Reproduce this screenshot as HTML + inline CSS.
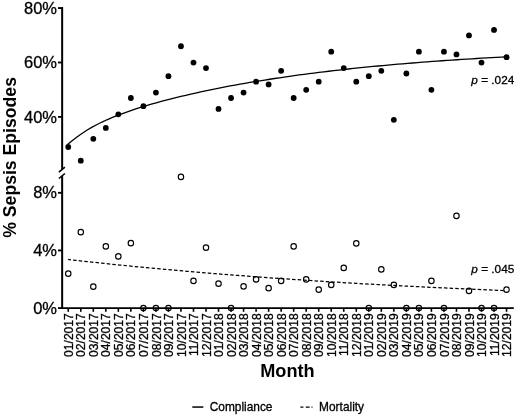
<!DOCTYPE html>
<html lang="en"><head><meta charset="utf-8"><title>Sepsis Episodes by Month</title>
<style>html,body{margin:0;padding:0;background:#fff}svg{display:block}text{font-family:"Liberation Sans",Arial,Helvetica,sans-serif;fill:#000}.r{stroke:#000;stroke-width:.3px}</style>
</head><body>
<svg width="520" height="415" viewBox="0 0 520 415">
<rect width="520" height="415" fill="#fff"/>
<g stroke="#000" fill="none" stroke-linecap="butt">
<path d="M62.15,7.1 V169.3" stroke-width="2"/>
<path d="M62.15,176.1 V309" stroke-width="2"/>
<path d="M61.3,308.1 H513.8" stroke-width="1.8"/>
<path d="M58.9,172.2 L64.9,167.2 M58.9,178.5 L64.9,173.5" stroke-width="1.6"/>
<path d="M58.0,8.05 H62" stroke-width="1.85"/>
<path d="M58.0,62.5 H62" stroke-width="1.85"/>
<path d="M58.0,116.9 H62" stroke-width="1.85"/>
<path d="M58.0,192.8 H62" stroke-width="1.85"/>
<path d="M58.0,250.45 H62" stroke-width="1.85"/>
<path d="M58.0,308.1 H62" stroke-width="1.85"/>
<path d="M68.25,308 V311.8" stroke-width="1.6"/>
<path d="M80.77,308 V311.8" stroke-width="1.6"/>
<path d="M93.30,308 V311.8" stroke-width="1.6"/>
<path d="M105.82,308 V311.8" stroke-width="1.6"/>
<path d="M118.34,308 V311.8" stroke-width="1.6"/>
<path d="M130.86,308 V311.8" stroke-width="1.6"/>
<path d="M143.39,308 V311.8" stroke-width="1.6"/>
<path d="M155.91,308 V311.8" stroke-width="1.6"/>
<path d="M168.43,308 V311.8" stroke-width="1.6"/>
<path d="M180.96,308 V311.8" stroke-width="1.6"/>
<path d="M193.48,308 V311.8" stroke-width="1.6"/>
<path d="M206.00,308 V311.8" stroke-width="1.6"/>
<path d="M218.52,308 V311.8" stroke-width="1.6"/>
<path d="M231.05,308 V311.8" stroke-width="1.6"/>
<path d="M243.57,308 V311.8" stroke-width="1.6"/>
<path d="M256.09,308 V311.8" stroke-width="1.6"/>
<path d="M268.62,308 V311.8" stroke-width="1.6"/>
<path d="M281.14,308 V311.8" stroke-width="1.6"/>
<path d="M293.66,308 V311.8" stroke-width="1.6"/>
<path d="M306.18,308 V311.8" stroke-width="1.6"/>
<path d="M318.71,308 V311.8" stroke-width="1.6"/>
<path d="M331.23,308 V311.8" stroke-width="1.6"/>
<path d="M343.75,308 V311.8" stroke-width="1.6"/>
<path d="M356.28,308 V311.8" stroke-width="1.6"/>
<path d="M368.80,308 V311.8" stroke-width="1.6"/>
<path d="M381.32,308 V311.8" stroke-width="1.6"/>
<path d="M393.84,308 V311.8" stroke-width="1.6"/>
<path d="M406.37,308 V311.8" stroke-width="1.6"/>
<path d="M418.89,308 V311.8" stroke-width="1.6"/>
<path d="M431.41,308 V311.8" stroke-width="1.6"/>
<path d="M443.94,308 V311.8" stroke-width="1.6"/>
<path d="M456.46,308 V311.8" stroke-width="1.6"/>
<path d="M468.98,308 V311.8" stroke-width="1.6"/>
<path d="M481.50,308 V311.8" stroke-width="1.6"/>
<path d="M494.03,308 V311.8" stroke-width="1.6"/>
<path d="M506.55,308 V311.8" stroke-width="1.6"/>
</g>
<text x="57.0" y="13.65" font-size="16.5" text-anchor="end" class="r">80%</text>
<text x="57.0" y="68.10" font-size="16.5" text-anchor="end" class="r">60%</text>
<text x="57.0" y="122.50" font-size="16.5" text-anchor="end" class="r">40%</text>
<text x="57.0" y="198.40" font-size="16.5" text-anchor="end" class="r">8%</text>
<text x="57.0" y="256.05" font-size="16.5" text-anchor="end" class="r">4%</text>
<text x="57.0" y="313.70" font-size="16.5" text-anchor="end" class="r">0%</text>
<text transform="translate(72.85,313.2) rotate(-90)" font-size="12.1" text-anchor="end" class="r">01/2017</text>
<text transform="translate(85.37,313.2) rotate(-90)" font-size="12.1" text-anchor="end" class="r">02/2017</text>
<text transform="translate(97.90,313.2) rotate(-90)" font-size="12.1" text-anchor="end" class="r">03/2017</text>
<text transform="translate(110.42,313.2) rotate(-90)" font-size="12.1" text-anchor="end" class="r">04/2017</text>
<text transform="translate(122.94,313.2) rotate(-90)" font-size="12.1" text-anchor="end" class="r">05/2017</text>
<text transform="translate(135.46,313.2) rotate(-90)" font-size="12.1" text-anchor="end" class="r">06/2017</text>
<text transform="translate(147.99,313.2) rotate(-90)" font-size="12.1" text-anchor="end" class="r">07/2017</text>
<text transform="translate(160.51,313.2) rotate(-90)" font-size="12.1" text-anchor="end" class="r">08/2017</text>
<text transform="translate(173.03,313.2) rotate(-90)" font-size="12.1" text-anchor="end" class="r">09/2017</text>
<text transform="translate(185.56,313.2) rotate(-90)" font-size="12.1" text-anchor="end" class="r">10/2017</text>
<text transform="translate(198.08,313.2) rotate(-90)" font-size="12.1" text-anchor="end" class="r">11/2017</text>
<text transform="translate(210.60,313.2) rotate(-90)" font-size="12.1" text-anchor="end" class="r">12/2017</text>
<text transform="translate(223.12,313.2) rotate(-90)" font-size="12.1" text-anchor="end" class="r">01/2018</text>
<text transform="translate(235.65,313.2) rotate(-90)" font-size="12.1" text-anchor="end" class="r">02/2018</text>
<text transform="translate(248.17,313.2) rotate(-90)" font-size="12.1" text-anchor="end" class="r">03/2018</text>
<text transform="translate(260.69,313.2) rotate(-90)" font-size="12.1" text-anchor="end" class="r">04/2018</text>
<text transform="translate(273.22,313.2) rotate(-90)" font-size="12.1" text-anchor="end" class="r">05/2018</text>
<text transform="translate(285.74,313.2) rotate(-90)" font-size="12.1" text-anchor="end" class="r">06/2018</text>
<text transform="translate(298.26,313.2) rotate(-90)" font-size="12.1" text-anchor="end" class="r">07/2018</text>
<text transform="translate(310.78,313.2) rotate(-90)" font-size="12.1" text-anchor="end" class="r">08/2018</text>
<text transform="translate(323.31,313.2) rotate(-90)" font-size="12.1" text-anchor="end" class="r">09/2018</text>
<text transform="translate(335.83,313.2) rotate(-90)" font-size="12.1" text-anchor="end" class="r">10/2018</text>
<text transform="translate(348.35,313.2) rotate(-90)" font-size="12.1" text-anchor="end" class="r">11/2018</text>
<text transform="translate(360.88,313.2) rotate(-90)" font-size="12.1" text-anchor="end" class="r">12/2018</text>
<text transform="translate(373.40,313.2) rotate(-90)" font-size="12.1" text-anchor="end" class="r">01/2019</text>
<text transform="translate(385.92,313.2) rotate(-90)" font-size="12.1" text-anchor="end" class="r">02/2019</text>
<text transform="translate(398.44,313.2) rotate(-90)" font-size="12.1" text-anchor="end" class="r">03/2019</text>
<text transform="translate(410.97,313.2) rotate(-90)" font-size="12.1" text-anchor="end" class="r">04/2019</text>
<text transform="translate(423.49,313.2) rotate(-90)" font-size="12.1" text-anchor="end" class="r">05/2019</text>
<text transform="translate(436.01,313.2) rotate(-90)" font-size="12.1" text-anchor="end" class="r">06/2019</text>
<text transform="translate(448.54,313.2) rotate(-90)" font-size="12.1" text-anchor="end" class="r">07/2019</text>
<text transform="translate(461.06,313.2) rotate(-90)" font-size="12.1" text-anchor="end" class="r">08/2019</text>
<text transform="translate(473.58,313.2) rotate(-90)" font-size="12.1" text-anchor="end" class="r">09/2019</text>
<text transform="translate(486.10,313.2) rotate(-90)" font-size="12.1" text-anchor="end" class="r">10/2019</text>
<text transform="translate(498.63,313.2) rotate(-90)" font-size="12.1" text-anchor="end" class="r">11/2019</text>
<text transform="translate(511.15,313.2) rotate(-90)" font-size="12.1" text-anchor="end" class="r">12/2019</text>
<text transform="translate(16.0,157.4) rotate(-90) scale(0.98,1)" font-size="18" font-weight="bold" text-anchor="middle">% Sepsis Episodes</text>
<text x="287.4" y="377.1" font-size="18.15" font-weight="bold" text-anchor="middle">Month</text>
<path d="M67.50,144.62 L72.43,140.47 L77.36,136.67 L82.29,133.20 L87.22,130.04 L92.15,127.14 L97.08,124.48 L102.01,122.04 L106.94,119.78 L111.87,117.69 L116.80,115.72 L121.73,113.86 L126.66,112.07 L131.59,110.37 L136.52,108.74 L141.45,107.18 L146.38,105.67 L151.31,104.23 L156.24,102.84 L161.17,101.49 L166.10,100.18 L171.03,98.91 L175.96,97.67 L180.88,96.47 L185.81,95.29 L190.74,94.14 L195.67,93.03 L200.60,91.94 L205.53,90.88 L210.46,89.84 L215.39,88.83 L220.32,87.85 L225.25,86.89 L230.18,85.95 L235.11,85.04 L240.04,84.15 L244.97,83.29 L249.90,82.44 L254.83,81.61 L259.76,80.81 L264.69,80.02 L269.62,79.25 L274.55,78.50 L279.48,77.77 L284.41,77.05 L289.34,76.34 L294.27,75.65 L299.20,74.98 L304.13,74.32 L309.06,73.67 L313.99,73.04 L318.92,72.42 L323.85,71.82 L328.78,71.23 L333.71,70.65 L338.64,70.08 L343.57,69.53 L348.50,68.99 L353.43,68.46 L358.36,67.94 L363.29,67.44 L368.22,66.94 L373.15,66.46 L378.08,65.99 L383.01,65.53 L387.94,65.08 L392.87,64.64 L397.79,64.21 L402.72,63.79 L407.65,63.38 L412.58,62.98 L417.51,62.58 L422.44,62.20 L427.37,61.83 L432.30,61.46 L437.23,61.10 L442.16,60.75 L447.09,60.41 L452.02,60.08 L456.95,59.75 L461.88,59.43 L466.81,59.12 L471.74,58.81 L476.67,58.51 L481.60,58.22 L486.53,57.94 L491.46,57.65 L496.39,57.38 L501.32,57.11 L506.25,56.84" stroke="#000" stroke-width="1.3" fill="none"/>
<path d="M68.10,259.45 L75.49,260.29 L82.88,261.11 L90.26,261.92 L97.65,262.72 L105.04,263.50 L112.43,264.27 L119.82,265.03 L127.21,265.77 L134.59,266.50 L141.98,267.21 L149.37,267.92 L156.76,268.61 L164.15,269.29 L171.53,269.96 L178.92,270.61 L186.31,271.26 L193.70,271.89 L201.09,272.52 L208.47,273.13 L215.86,273.73 L223.25,274.32 L230.64,274.90 L238.03,275.47 L245.42,276.03 L252.80,276.58 L260.19,277.12 L267.58,277.66 L274.97,278.18 L282.36,278.69 L289.74,279.20 L297.13,279.69 L304.52,280.18 L311.91,280.66 L319.30,281.13 L326.68,281.59 L334.07,282.05 L341.46,282.49 L348.85,282.93 L356.24,283.36 L363.63,283.79 L371.01,284.20 L378.40,284.61 L385.79,285.01 L393.18,285.41 L400.57,285.80 L407.95,286.18 L415.34,286.55 L422.73,286.92 L430.12,287.28 L437.51,287.64 L444.89,287.99 L452.28,288.33 L459.67,288.67 L467.06,289.00 L474.45,289.32 L481.84,289.64 L489.22,289.96 L496.61,290.27 L504.00,290.57" stroke="#000" stroke-width="1.25" fill="none" stroke-dasharray="3.5 2.136" stroke-dashoffset="0.6"/>
<g fill="#000">
<circle cx="68.25" cy="147.02" r="2.9"/>
<circle cx="80.77" cy="160.63" r="2.9"/>
<circle cx="93.30" cy="138.85" r="2.9"/>
<circle cx="105.82" cy="127.96" r="2.9"/>
<circle cx="118.34" cy="114.34" r="2.9"/>
<circle cx="130.86" cy="98.01" r="2.9"/>
<circle cx="143.39" cy="106.17" r="2.9"/>
<circle cx="155.91" cy="92.56" r="2.9"/>
<circle cx="168.43" cy="76.22" r="2.9"/>
<circle cx="180.96" cy="46.27" r="2.9"/>
<circle cx="193.48" cy="62.61" r="2.9"/>
<circle cx="206.00" cy="68.05" r="2.9"/>
<circle cx="218.52" cy="108.90" r="2.9"/>
<circle cx="231.05" cy="98.01" r="2.9"/>
<circle cx="243.57" cy="92.56" r="2.9"/>
<circle cx="256.09" cy="81.67" r="2.9"/>
<circle cx="268.62" cy="84.39" r="2.9"/>
<circle cx="281.14" cy="70.78" r="2.9"/>
<circle cx="293.66" cy="98.01" r="2.9"/>
<circle cx="306.18" cy="89.84" r="2.9"/>
<circle cx="318.71" cy="81.67" r="2.9"/>
<circle cx="331.23" cy="51.72" r="2.9"/>
<circle cx="343.75" cy="68.05" r="2.9"/>
<circle cx="356.28" cy="81.67" r="2.9"/>
<circle cx="368.80" cy="76.22" r="2.9"/>
<circle cx="381.32" cy="70.78" r="2.9"/>
<circle cx="393.84" cy="119.79" r="2.9"/>
<circle cx="406.37" cy="73.50" r="2.9"/>
<circle cx="418.89" cy="51.72" r="2.9"/>
<circle cx="431.41" cy="89.84" r="2.9"/>
<circle cx="443.94" cy="51.72" r="2.9"/>
<circle cx="456.46" cy="54.44" r="2.9"/>
<circle cx="468.98" cy="35.38" r="2.9"/>
<circle cx="481.50" cy="62.61" r="2.9"/>
<circle cx="494.03" cy="29.93" r="2.9"/>
<circle cx="506.55" cy="57.16" r="2.9"/>
</g>
<g fill="none" stroke="#000" stroke-width="1.12">
<circle cx="68.25" cy="273.65" r="2.72"/>
<circle cx="80.77" cy="232.15" r="2.72"/>
<circle cx="93.30" cy="286.65" r="2.72"/>
<circle cx="105.82" cy="246.40" r="2.72"/>
<circle cx="118.34" cy="256.40" r="2.72"/>
<circle cx="130.86" cy="243.15" r="2.72"/>
<circle cx="143.39" cy="308.10" r="2.72" fill="none"/>
<circle cx="155.91" cy="308.10" r="2.72" fill="none"/>
<circle cx="168.43" cy="308.10" r="2.72" fill="none"/>
<circle cx="180.96" cy="176.90" r="2.72"/>
<circle cx="193.48" cy="280.90" r="2.72"/>
<circle cx="206.00" cy="247.65" r="2.72"/>
<circle cx="218.52" cy="283.65" r="2.72"/>
<circle cx="231.05" cy="308.10" r="2.72" fill="none"/>
<circle cx="243.57" cy="286.40" r="2.72"/>
<circle cx="256.09" cy="279.40" r="2.72"/>
<circle cx="268.62" cy="288.15" r="2.72"/>
<circle cx="281.14" cy="280.90" r="2.72"/>
<circle cx="293.66" cy="246.40" r="2.72"/>
<circle cx="306.18" cy="279.40" r="2.72"/>
<circle cx="318.71" cy="289.65" r="2.72"/>
<circle cx="331.23" cy="284.90" r="2.72"/>
<circle cx="343.75" cy="267.90" r="2.72"/>
<circle cx="356.28" cy="243.40" r="2.72"/>
<circle cx="368.80" cy="308.10" r="2.72" fill="none"/>
<circle cx="381.32" cy="269.40" r="2.72"/>
<circle cx="393.84" cy="284.90" r="2.72"/>
<circle cx="406.37" cy="308.10" r="2.72" fill="none"/>
<circle cx="418.89" cy="308.10" r="2.72" fill="none"/>
<circle cx="431.41" cy="280.90" r="2.72"/>
<circle cx="443.94" cy="308.10" r="2.72" fill="none"/>
<circle cx="456.46" cy="215.90" r="2.72"/>
<circle cx="468.98" cy="290.90" r="2.72"/>
<circle cx="481.50" cy="308.10" r="2.72" fill="none"/>
<circle cx="494.03" cy="308.10" r="2.72" fill="none"/>
<circle cx="506.55" cy="289.65" r="2.72"/>
</g>
<text x="471.3" y="84.3" font-size="11.8" class="r"><tspan font-style="italic">p</tspan> = .024</text>
<text x="471.3" y="272.6" font-size="11.8" class="r"><tspan font-style="italic">p</tspan> = .045</text>
<path d="M192.3,407.05 H203.3" stroke="#000" stroke-width="1.5"/>
<path d="M300.4,407.05 H312.5" stroke="#000" stroke-width="1.3" stroke-dasharray="3 2.4 3.8 1.9 1 0"/>
<text x="209.7" y="410.8" font-size="11.9" class="r">Compliance</text>
<text x="319.1" y="410.8" font-size="11.9" class="r">Mortality</text>
</svg></body></html>
